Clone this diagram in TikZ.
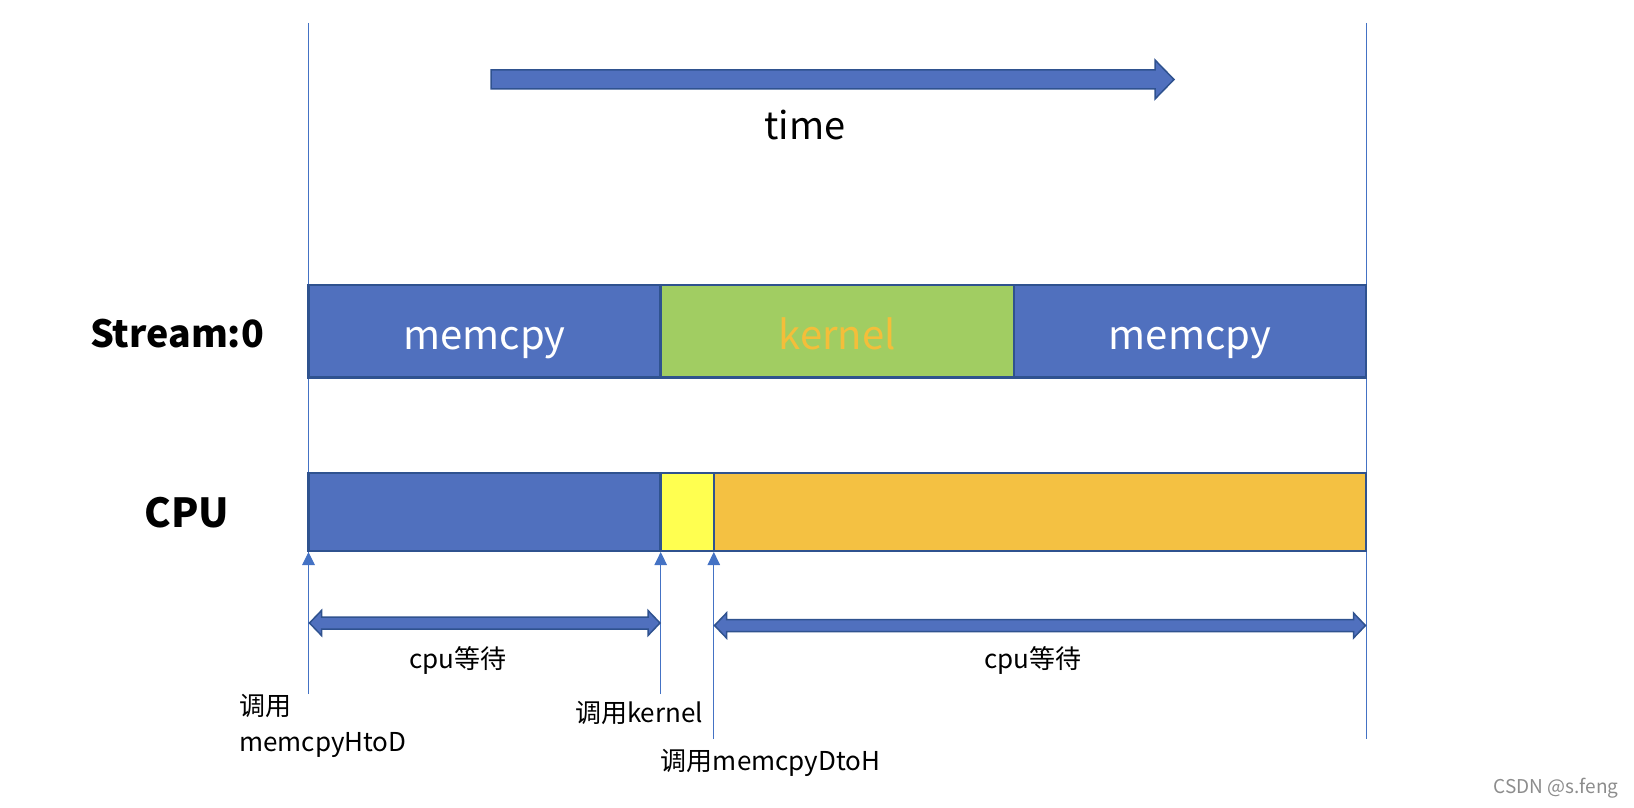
\documentclass[tikz,border=0pt]{standalone}
\usepackage{fontspec}
\setmainfont{Noto Sans CJK SC}
\usetikzlibrary{arrows.meta,calc}
\definecolor{bfill}{RGB}{80,112,190}
\definecolor{bline}{RGB}{47,82,143}
\definecolor{vline}{RGB}{68,114,196}
\definecolor{gfill}{RGB}{161,205,98}
\definecolor{yfill}{RGB}{255,255,80}
\definecolor{ofill}{RGB}{244,193,66}
\definecolor{ktext}{RGB}{244,190,58}
\tikzset{
  seg/.style={draw=bline, line width=2.5pt, inner sep=0pt, outer sep=0pt, text height=36pt, text depth=0pt, font=\fontsize{40}{48}\selectfont},
  guide/.style={draw=vline, line width=1pt},
  uparrow/.style={draw=vline, line width=1pt, -{Triangle[width=12.5pt,length=13pt]}, shorten >=1pt},
  barrow/.style={fill=bfill, draw=bline, line width=1.5pt, line join=miter},
  lbl/.style={inner sep=0pt, font=\fontsize{26}{36}\selectfont},
  rowlbl/.style={inner sep=0pt, font=\fontsize{40}{48}\selectfont\bfseries}
}
\begin{document}
\begin{tikzpicture}[x=1pt,y=-1pt]
\useasboundingbox (0,0) rectangle (1634,808);
% guide lines
\coordinate (Ltop) at (308.5,23);
\coordinate (Lbot) at (308.5,694);
\coordinate (Rtop) at (1366,23);
\coordinate (Rbot) at (1366,739);
\draw[guide] (Ltop) -- (Lbot);
\draw[guide] (Rtop) -- (Rbot);
% time arrow
\coordinate (t0) at (491,79.5);
\coordinate (t1) at (1174,79.5);
\draw[barrow] (t0) -- ++(0,-9.5) -- ($(t1)+(-19,-9.5)$) -- ++(0,-10) -- (t1) -- ++(-19,19.5) -- ++(0,-10) -- ($(t0)+(0,9.5)$) -- cycle;
\node[inner sep=0pt, font=\fontsize{38}{44}\selectfont] (time) at (805,125) {time};
% stream row
\node[rowlbl, font=\fontsize{37.5}{45}\selectfont\bfseries] (slbl) at (177,334) {Stream:0};
\node[seg, fill=bfill, text=white, minimum width=352.2pt, minimum height=92.5pt] (m1) at (484.6,331) {memcpy};
\node[seg, fill=gfill, text=ktext, minimum width=353.3pt, minimum height=92.5pt] (k) at (837.35,331) {kernel};
\node[seg, fill=bfill, text=white, minimum width=352pt, minimum height=92.5pt] (m2) at (1190,331) {memcpy};
% cpu row
\node[rowlbl] (clbl) at (187,512.5) {CPU};
\node[seg, fill=bfill, minimum width=352.2pt, minimum height=78pt] (c1) at (484.6,512) {};
\node[seg, fill=yfill, minimum width=53.1pt, minimum height=78pt] (c2) at (687.25,512) {};
\node[seg, fill=ofill, minimum width=652.2pt, minimum height=78pt] (c3) at (1039.9,512) {};
% up arrows
\coordinate (a2) at (660.7,694);
\coordinate (a3) at (713.8,739);
\draw[uparrow] (Lbot) -- (c1.south west);
\draw[uparrow] (a2) -- (c1.south east);
\draw[uparrow] (a3) -- (c3.south west);
% double arrows
\coordinate (d1a) at (309.5,623);
\coordinate (d1b) at (660,623);
\draw[barrow] (d1a) -- ++(12,-12.5) -- ++(0,6.5) -- ($(d1b)+(-12,-6)$) -- ++(0,-6.5) -- (d1b) -- ++(-12,12.5) -- ++(0,-6.5) -- ($(d1a)+(12,6)$) -- ++(0,6.5) -- cycle;
\coordinate (d2a) at (714.5,625.5);
\coordinate (d2b) at (1365.5,625.5);
\draw[barrow] (d2a) -- ++(12,-12.5) -- ++(0,6.5) -- ($(d2b)+(-12,-6)$) -- ++(0,-6.5) -- (d2b) -- ++(-12,12.5) -- ++(0,-6.5) -- ($(d2a)+(12,6)$) -- ++(0,6.5) -- cycle;
\node[lbl] (w1) at (458,660) {cpu等待};
\node[lbl] (w2) at (1033,660) {cpu等待};
% call labels
\node[lbl, align=left, anchor=north west] (h2d) at (239,694) {调用\\memcpyHtoD};
\node[lbl] (kcall) at (639,713) {调用kernel};
\node[lbl] (d2h) at (770.6,763) {调用memcpyDtoH};
\node[inner sep=0pt, text=black!45, font=\fontsize{19}{22}\selectfont] (wm) at (1556,788) {CSDN @s.feng};
\end{tikzpicture}
\end{document}
